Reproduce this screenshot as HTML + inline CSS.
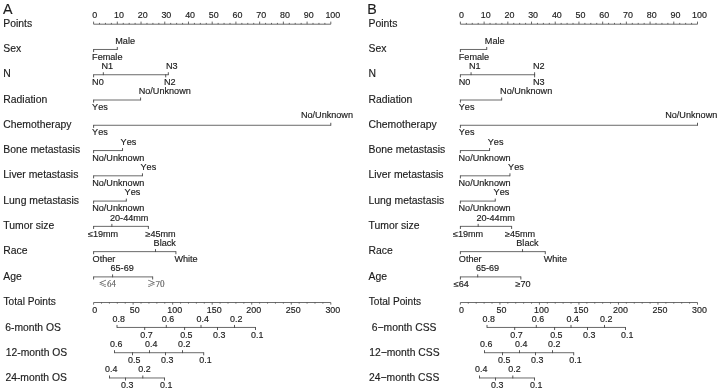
<!DOCTYPE html>
<html><head><meta charset="utf-8"><title>Nomogram</title>
<style>
html,body{margin:0;padding:0;background:#fff;}
text.nk{font-kerning:none;}
svg{display:block;font-family:"Liberation Sans",sans-serif;}
</style></head><body>
<svg width="720" height="392" viewBox="0 0 720 392">
<rect width="720" height="392" fill="#fff"/>
<text transform="translate(3.00 13.70) scale(0.92 1)" font-size="15.5" text-anchor="start" fill="#1c1c1c" stroke="#1c1c1c" stroke-width="0.15" class="nk">A</text>
<text transform="translate(3.30 26.80) scale(1.0 1)" font-size="10.4" text-anchor="start" fill="#1c1c1c" stroke="#1c1c1c" stroke-width="0.15">Points</text>
<path d="M93.60 24.20H330.80M93.60 24.20v-2.6M99.53 24.20v-1.3M105.46 24.20v-1.3M111.39 24.20v-1.3M117.32 24.20v-2.6M123.25 24.20v-1.3M129.18 24.20v-1.3M135.11 24.20v-1.3M141.04 24.20v-2.6M146.97 24.20v-1.3M152.90 24.20v-1.3M158.83 24.20v-1.3M164.76 24.20v-2.6M170.69 24.20v-1.3M176.62 24.20v-1.3M182.55 24.20v-1.3M188.48 24.20v-2.6M194.41 24.20v-1.3M200.34 24.20v-1.3M206.27 24.20v-1.3M212.20 24.20v-2.6M218.13 24.20v-1.3M224.06 24.20v-1.3M229.99 24.20v-1.3M235.92 24.20v-2.6M241.85 24.20v-1.3M247.78 24.20v-1.3M253.71 24.20v-1.3M259.64 24.20v-2.6M265.57 24.20v-1.3M271.50 24.20v-1.3M277.43 24.20v-1.3M283.36 24.20v-2.6M289.29 24.20v-1.3M295.22 24.20v-1.3M301.15 24.20v-1.3M307.08 24.20v-2.6M313.01 24.20v-1.3M318.94 24.20v-1.3M324.87 24.20v-1.3M330.80 24.20v-2.6" fill="none" stroke="#444444" stroke-width="0.8"/>
<text transform="translate(94.80 18.20) scale(1.06 1)" font-size="8.4" text-anchor="middle" fill="#1c1c1c" stroke="#1c1c1c" stroke-width="0.15" class="nk">0</text>
<text transform="translate(118.92 18.20) scale(1.06 1)" font-size="8.4" text-anchor="middle" fill="#1c1c1c" stroke="#1c1c1c" stroke-width="0.15" class="nk">10</text>
<text transform="translate(142.64 18.20) scale(1.06 1)" font-size="8.4" text-anchor="middle" fill="#1c1c1c" stroke="#1c1c1c" stroke-width="0.15" class="nk">20</text>
<text transform="translate(166.36 18.20) scale(1.06 1)" font-size="8.4" text-anchor="middle" fill="#1c1c1c" stroke="#1c1c1c" stroke-width="0.15" class="nk">30</text>
<text transform="translate(190.08 18.20) scale(1.06 1)" font-size="8.4" text-anchor="middle" fill="#1c1c1c" stroke="#1c1c1c" stroke-width="0.15" class="nk">40</text>
<text transform="translate(213.80 18.20) scale(1.06 1)" font-size="8.4" text-anchor="middle" fill="#1c1c1c" stroke="#1c1c1c" stroke-width="0.15" class="nk">50</text>
<text transform="translate(237.52 18.20) scale(1.06 1)" font-size="8.4" text-anchor="middle" fill="#1c1c1c" stroke="#1c1c1c" stroke-width="0.15" class="nk">60</text>
<text transform="translate(261.24 18.20) scale(1.06 1)" font-size="8.4" text-anchor="middle" fill="#1c1c1c" stroke="#1c1c1c" stroke-width="0.15" class="nk">70</text>
<text transform="translate(284.96 18.20) scale(1.06 1)" font-size="8.4" text-anchor="middle" fill="#1c1c1c" stroke="#1c1c1c" stroke-width="0.15" class="nk">80</text>
<text transform="translate(308.68 18.20) scale(1.06 1)" font-size="8.4" text-anchor="middle" fill="#1c1c1c" stroke="#1c1c1c" stroke-width="0.15" class="nk">90</text>
<text transform="translate(332.80 18.20) scale(1.06 1)" font-size="8.4" text-anchor="middle" fill="#1c1c1c" stroke="#1c1c1c" stroke-width="0.15" class="nk">100</text>
<text transform="translate(3.30 52.07) scale(1.0 1)" font-size="10.4" text-anchor="start" fill="#1c1c1c" stroke="#1c1c1c" stroke-width="0.15">Sex</text>
<text transform="translate(92.10 59.67) scale(1.085 1)" font-size="8.4" text-anchor="start" fill="#1c1c1c" stroke="#1c1c1c" stroke-width="0.15" class="nk">Female</text>
<text transform="translate(115.25 43.67) scale(1.085 1)" font-size="8.4" text-anchor="start" fill="#1c1c1c" stroke="#1c1c1c" stroke-width="0.15" class="nk">Male</text>
<path d="M93.60 49.47H117.32" fill="none" stroke="#444444" stroke-width="0.8"/>
<path d="M93.60 49.07v3.00M117.32 49.87v-2.90" fill="none" stroke="#444444" stroke-width="0.9"/>
<text transform="translate(3.30 77.34) scale(1.0 1)" font-size="10.4" text-anchor="start" fill="#1c1c1c" stroke="#1c1c1c" stroke-width="0.15">N</text>
<text transform="translate(92.10 84.94) scale(1.085 1)" font-size="8.4" text-anchor="start" fill="#1c1c1c" stroke="#1c1c1c" stroke-width="0.15" class="nk">N0</text>
<text transform="translate(101.50 68.94) scale(1.085 1)" font-size="8.4" text-anchor="start" fill="#1c1c1c" stroke="#1c1c1c" stroke-width="0.15" class="nk">N1</text>
<text transform="translate(164.00 84.94) scale(1.085 1)" font-size="8.4" text-anchor="start" fill="#1c1c1c" stroke="#1c1c1c" stroke-width="0.15" class="nk">N2</text>
<text transform="translate(166.00 68.94) scale(1.085 1)" font-size="8.4" text-anchor="start" fill="#1c1c1c" stroke="#1c1c1c" stroke-width="0.15" class="nk">N3</text>
<path d="M93.60 74.74H168.32" fill="none" stroke="#444444" stroke-width="0.8"/>
<path d="M93.60 74.34v3.00M103.33 75.14v-2.90M165.71 74.34v3.00M168.32 75.14v-2.90" fill="none" stroke="#444444" stroke-width="0.9"/>
<text transform="translate(3.30 102.61) scale(1.0 1)" font-size="10.4" text-anchor="start" fill="#1c1c1c" stroke="#1c1c1c" stroke-width="0.15">Radiation</text>
<text transform="translate(92.10 110.21) scale(1.085 1)" font-size="8.4" text-anchor="start" fill="#1c1c1c" stroke="#1c1c1c" stroke-width="0.15" class="nk">Yes</text>
<text transform="translate(138.70 94.21) scale(1.085 1)" font-size="8.4" text-anchor="start" fill="#1c1c1c" stroke="#1c1c1c" stroke-width="0.15" class="nk">No/Unknown</text>
<path d="M93.60 100.01H140.57" fill="none" stroke="#444444" stroke-width="0.8"/>
<path d="M93.60 99.61v3.00M140.57 100.41v-2.90" fill="none" stroke="#444444" stroke-width="0.9"/>
<text transform="translate(3.30 127.88) scale(1.0 1)" font-size="10.4" text-anchor="start" fill="#1c1c1c" stroke="#1c1c1c" stroke-width="0.15">Chemotherapy</text>
<text transform="translate(92.10 135.48) scale(1.085 1)" font-size="8.4" text-anchor="start" fill="#1c1c1c" stroke="#1c1c1c" stroke-width="0.15" class="nk">Yes</text>
<text transform="translate(300.90 118.33) scale(1.085 1)" font-size="8.4" text-anchor="start" fill="#1c1c1c" stroke="#1c1c1c" stroke-width="0.15" class="nk">No/Unknown</text>
<path d="M93.60 125.28H330.80" fill="none" stroke="#444444" stroke-width="0.8"/>
<path d="M93.60 124.88v3.00M330.80 125.68v-2.90" fill="none" stroke="#444444" stroke-width="0.9"/>
<text transform="translate(3.30 153.15) scale(1.0 1)" font-size="10.4" text-anchor="start" fill="#1c1c1c" stroke="#1c1c1c" stroke-width="0.15">Bone metastasis</text>
<text transform="translate(92.20 160.75) scale(1.085 1)" font-size="8.4" text-anchor="start" fill="#1c1c1c" stroke="#1c1c1c" stroke-width="0.15" class="nk">No/Unknown</text>
<text transform="translate(120.60 144.75) scale(1.085 1)" font-size="8.4" text-anchor="start" fill="#1c1c1c" stroke="#1c1c1c" stroke-width="0.15" class="nk">Yes</text>
<path d="M93.60 150.55H122.54" fill="none" stroke="#444444" stroke-width="0.8"/>
<path d="M93.60 150.15v3.00M122.54 150.95v-2.90" fill="none" stroke="#444444" stroke-width="0.9"/>
<text transform="translate(3.30 178.42) scale(1.0 1)" font-size="10.4" text-anchor="start" fill="#1c1c1c" stroke="#1c1c1c" stroke-width="0.15">Liver metastasis</text>
<text transform="translate(92.20 186.02) scale(1.085 1)" font-size="8.4" text-anchor="start" fill="#1c1c1c" stroke="#1c1c1c" stroke-width="0.15" class="nk">No/Unknown</text>
<text transform="translate(140.50 170.02) scale(1.085 1)" font-size="8.4" text-anchor="start" fill="#1c1c1c" stroke="#1c1c1c" stroke-width="0.15" class="nk">Yes</text>
<path d="M93.60 175.82H142.46" fill="none" stroke="#444444" stroke-width="0.8"/>
<path d="M93.60 175.42v3.00M142.46 176.22v-2.90" fill="none" stroke="#444444" stroke-width="0.9"/>
<text transform="translate(3.30 203.69) scale(1.0 1)" font-size="10.4" text-anchor="start" fill="#1c1c1c" stroke="#1c1c1c" stroke-width="0.15">Lung metastasis</text>
<text transform="translate(92.20 211.29) scale(1.085 1)" font-size="8.4" text-anchor="start" fill="#1c1c1c" stroke="#1c1c1c" stroke-width="0.15" class="nk">No/Unknown</text>
<text transform="translate(124.60 195.29) scale(1.085 1)" font-size="8.4" text-anchor="start" fill="#1c1c1c" stroke="#1c1c1c" stroke-width="0.15" class="nk">Yes</text>
<path d="M93.60 201.09H126.33" fill="none" stroke="#444444" stroke-width="0.8"/>
<path d="M93.60 200.69v3.00M126.33 201.49v-2.90" fill="none" stroke="#444444" stroke-width="0.9"/>
<text transform="translate(3.30 228.96) scale(1.0 1)" font-size="10.4" text-anchor="start" fill="#1c1c1c" stroke="#1c1c1c" stroke-width="0.15">Tumor size</text>
<text transform="translate(87.90 236.56) scale(1.085 1)" font-size="8.4" text-anchor="start" fill="#1c1c1c" stroke="#1c1c1c" stroke-width="0.15" class="nk">≤19mm</text>
<text transform="translate(110.00 220.56) scale(1.085 1)" font-size="8.4" text-anchor="start" fill="#1c1c1c" stroke="#1c1c1c" stroke-width="0.15" class="nk">20-44mm</text>
<text transform="translate(145.40 236.56) scale(1.085 1)" font-size="8.4" text-anchor="start" fill="#1c1c1c" stroke="#1c1c1c" stroke-width="0.15" class="nk">≥45mm</text>
<path d="M93.60 226.36H148.39" fill="none" stroke="#444444" stroke-width="0.8"/>
<path d="M93.60 225.96v3.00M111.86 226.76v-2.90M148.39 225.96v3.00" fill="none" stroke="#444444" stroke-width="0.9"/>
<text transform="translate(3.30 254.23) scale(1.0 1)" font-size="10.4" text-anchor="start" fill="#1c1c1c" stroke="#1c1c1c" stroke-width="0.15">Race</text>
<text transform="translate(92.60 261.83) scale(1.085 1)" font-size="8.4" text-anchor="start" fill="#1c1c1c" stroke="#1c1c1c" stroke-width="0.15" class="nk">Other</text>
<text transform="translate(153.60 245.83) scale(1.085 1)" font-size="8.4" text-anchor="start" fill="#1c1c1c" stroke="#1c1c1c" stroke-width="0.15" class="nk">Black</text>
<text transform="translate(174.40 261.83) scale(1.085 1)" font-size="8.4" text-anchor="start" fill="#1c1c1c" stroke="#1c1c1c" stroke-width="0.15" class="nk">White</text>
<path d="M93.60 251.63H175.91" fill="none" stroke="#444444" stroke-width="0.8"/>
<path d="M93.60 251.23v3.00M155.51 252.03v-2.90M175.91 251.23v3.00" fill="none" stroke="#444444" stroke-width="0.9"/>
<text transform="translate(3.30 279.50) scale(1.0 1)" font-size="10.4" text-anchor="start" fill="#1c1c1c" stroke="#1c1c1c" stroke-width="0.15">Age</text>
<text transform="translate(98.70 287.40) scale(0.96 1)" font-size="8.6" text-anchor="start" fill="#5c5c5c" stroke="#5c5c5c" stroke-width="0.2" font-family="'Noto Serif CJK SC','Liberation Serif',serif" class="nk">≤64</text>
<text transform="translate(110.50 271.10) scale(1.085 1)" font-size="8.4" text-anchor="start" fill="#1c1c1c" stroke="#1c1c1c" stroke-width="0.15" class="nk">65-69</text>
<text transform="translate(147.20 287.40) scale(0.96 1)" font-size="8.6" text-anchor="start" fill="#5c5c5c" stroke="#5c5c5c" stroke-width="0.2" font-family="'Noto Serif CJK SC','Liberation Serif',serif" class="nk">≥70</text>
<path d="M93.60 276.90H152.66" fill="none" stroke="#444444" stroke-width="0.8"/>
<path d="M93.60 276.50v3.00M112.58 277.30v-2.90M152.66 276.50v3.00" fill="none" stroke="#444444" stroke-width="0.9"/>
<text transform="translate(3.50 305.12) scale(0.975 1)" font-size="10.4" text-anchor="start" fill="#1c1c1c" stroke="#1c1c1c" stroke-width="0.15">Total Points</text>
<path d="M93.60 302.52H330.80M93.60 302.52v2.1M101.51 302.52v1.1M109.41 302.52v1.1M117.32 302.52v1.1M125.23 302.52v1.1M133.13 302.52v2.1M141.04 302.52v1.1M148.95 302.52v1.1M156.85 302.52v1.1M164.76 302.52v1.1M172.67 302.52v2.1M180.57 302.52v1.1M188.48 302.52v1.1M196.39 302.52v1.1M204.29 302.52v1.1M212.20 302.52v2.1M220.11 302.52v1.1M228.01 302.52v1.1M235.92 302.52v1.1M243.83 302.52v1.1M251.73 302.52v2.1M259.64 302.52v1.1M267.55 302.52v1.1M275.45 302.52v1.1M283.36 302.52v1.1M291.27 302.52v2.1M299.17 302.52v1.1M307.08 302.52v1.1M314.99 302.52v1.1M322.89 302.52v1.1M330.80 302.52v2.1" fill="none" stroke="#444444" stroke-width="0.8"/>
<text transform="translate(94.80 313.02) scale(1.06 1)" font-size="8.4" text-anchor="middle" fill="#1c1c1c" stroke="#1c1c1c" stroke-width="0.15" class="nk">0</text>
<text transform="translate(134.73 313.02) scale(1.06 1)" font-size="8.4" text-anchor="middle" fill="#1c1c1c" stroke="#1c1c1c" stroke-width="0.15" class="nk">50</text>
<text transform="translate(174.67 313.02) scale(1.06 1)" font-size="8.4" text-anchor="middle" fill="#1c1c1c" stroke="#1c1c1c" stroke-width="0.15" class="nk">100</text>
<text transform="translate(214.20 313.02) scale(1.06 1)" font-size="8.4" text-anchor="middle" fill="#1c1c1c" stroke="#1c1c1c" stroke-width="0.15" class="nk">150</text>
<text transform="translate(253.73 313.02) scale(1.06 1)" font-size="8.4" text-anchor="middle" fill="#1c1c1c" stroke="#1c1c1c" stroke-width="0.15" class="nk">200</text>
<text transform="translate(293.27 313.02) scale(1.06 1)" font-size="8.4" text-anchor="middle" fill="#1c1c1c" stroke="#1c1c1c" stroke-width="0.15" class="nk">250</text>
<text transform="translate(332.80 313.02) scale(1.06 1)" font-size="8.4" text-anchor="middle" fill="#1c1c1c" stroke="#1c1c1c" stroke-width="0.15" class="nk">300</text>
<text transform="translate(5.20 330.59) scale(0.995 1)" font-size="10.4" text-anchor="start" fill="#1c1c1c" stroke="#1c1c1c" stroke-width="0.15">6-month OS</text>
<text transform="translate(118.70 321.94) scale(1.06 1)" font-size="8.4" text-anchor="middle" fill="#1c1c1c" stroke="#1c1c1c" stroke-width="0.15" class="nk">0.8</text>
<text transform="translate(146.40 337.64) scale(1.06 1)" font-size="8.4" text-anchor="middle" fill="#1c1c1c" stroke="#1c1c1c" stroke-width="0.15" class="nk">0.7</text>
<text transform="translate(168.00 321.94) scale(1.06 1)" font-size="8.4" text-anchor="middle" fill="#1c1c1c" stroke="#1c1c1c" stroke-width="0.15" class="nk">0.6</text>
<text transform="translate(186.30 337.64) scale(1.06 1)" font-size="8.4" text-anchor="middle" fill="#1c1c1c" stroke="#1c1c1c" stroke-width="0.15" class="nk">0.5</text>
<text transform="translate(202.70 321.94) scale(1.06 1)" font-size="8.4" text-anchor="middle" fill="#1c1c1c" stroke="#1c1c1c" stroke-width="0.15" class="nk">0.4</text>
<text transform="translate(219.20 337.64) scale(1.06 1)" font-size="8.4" text-anchor="middle" fill="#1c1c1c" stroke="#1c1c1c" stroke-width="0.15" class="nk">0.3</text>
<text transform="translate(236.20 321.94) scale(1.06 1)" font-size="8.4" text-anchor="middle" fill="#1c1c1c" stroke="#1c1c1c" stroke-width="0.15" class="nk">0.2</text>
<text transform="translate(257.20 337.64) scale(1.06 1)" font-size="8.4" text-anchor="middle" fill="#1c1c1c" stroke="#1c1c1c" stroke-width="0.15" class="nk">0.1</text>
<path d="M117.00 327.44H255.50" fill="none" stroke="#444444" stroke-width="0.8"/>
<path d="M117.00 327.84v-2.90M144.70 327.04v3.00M166.30 327.84v-2.90M184.60 327.04v3.00M201.00 327.84v-2.90M217.50 327.04v3.00M234.50 327.84v-2.90M255.50 327.04v3.00" fill="none" stroke="#444444" stroke-width="0.9"/>
<text transform="translate(5.80 355.86) scale(0.995 1)" font-size="10.4" text-anchor="start" fill="#1c1c1c" stroke="#1c1c1c" stroke-width="0.15">12-month OS</text>
<text transform="translate(116.20 347.21) scale(1.06 1)" font-size="8.4" text-anchor="middle" fill="#1c1c1c" stroke="#1c1c1c" stroke-width="0.15" class="nk">0.6</text>
<text transform="translate(134.20 362.91) scale(1.06 1)" font-size="8.4" text-anchor="middle" fill="#1c1c1c" stroke="#1c1c1c" stroke-width="0.15" class="nk">0.5</text>
<text transform="translate(151.20 347.21) scale(1.06 1)" font-size="8.4" text-anchor="middle" fill="#1c1c1c" stroke="#1c1c1c" stroke-width="0.15" class="nk">0.4</text>
<text transform="translate(167.20 362.91) scale(1.06 1)" font-size="8.4" text-anchor="middle" fill="#1c1c1c" stroke="#1c1c1c" stroke-width="0.15" class="nk">0.3</text>
<text transform="translate(184.20 347.21) scale(1.06 1)" font-size="8.4" text-anchor="middle" fill="#1c1c1c" stroke="#1c1c1c" stroke-width="0.15" class="nk">0.2</text>
<text transform="translate(205.40 362.91) scale(1.06 1)" font-size="8.4" text-anchor="middle" fill="#1c1c1c" stroke="#1c1c1c" stroke-width="0.15" class="nk">0.1</text>
<path d="M114.50 352.71H203.70" fill="none" stroke="#444444" stroke-width="0.8"/>
<path d="M114.50 353.11v-2.90M132.50 352.31v3.00M149.50 353.11v-2.90M165.50 352.31v3.00M182.50 353.11v-2.90M203.70 352.31v3.00" fill="none" stroke="#444444" stroke-width="0.9"/>
<text transform="translate(5.40 381.13) scale(0.995 1)" font-size="10.4" text-anchor="start" fill="#1c1c1c" stroke="#1c1c1c" stroke-width="0.15">24-month OS</text>
<text transform="translate(111.20 372.48) scale(1.06 1)" font-size="8.4" text-anchor="middle" fill="#1c1c1c" stroke="#1c1c1c" stroke-width="0.15" class="nk">0.4</text>
<text transform="translate(127.20 388.18) scale(1.06 1)" font-size="8.4" text-anchor="middle" fill="#1c1c1c" stroke="#1c1c1c" stroke-width="0.15" class="nk">0.3</text>
<text transform="translate(144.50 372.48) scale(1.06 1)" font-size="8.4" text-anchor="middle" fill="#1c1c1c" stroke="#1c1c1c" stroke-width="0.15" class="nk">0.2</text>
<text transform="translate(166.20 388.18) scale(1.06 1)" font-size="8.4" text-anchor="middle" fill="#1c1c1c" stroke="#1c1c1c" stroke-width="0.15" class="nk">0.1</text>
<path d="M109.50 377.98H164.50" fill="none" stroke="#444444" stroke-width="0.8"/>
<path d="M109.50 378.38v-2.90M125.50 377.58v3.00M142.80 378.38v-2.90M164.50 377.58v3.00" fill="none" stroke="#444444" stroke-width="0.9"/>
<text transform="translate(367.30 13.70) scale(0.92 1)" font-size="15.5" text-anchor="start" fill="#1c1c1c" stroke="#1c1c1c" stroke-width="0.15" class="nk">B</text>
<text transform="translate(368.50 26.80) scale(1.0 1)" font-size="10.4" text-anchor="start" fill="#1c1c1c" stroke="#1c1c1c" stroke-width="0.15">Points</text>
<path d="M460.40 24.20H697.50M460.40 24.20v-2.6M466.33 24.20v-1.3M472.25 24.20v-1.3M478.18 24.20v-1.3M484.11 24.20v-2.6M490.04 24.20v-1.3M495.96 24.20v-1.3M501.89 24.20v-1.3M507.82 24.20v-2.6M513.75 24.20v-1.3M519.67 24.20v-1.3M525.60 24.20v-1.3M531.53 24.20v-2.6M537.46 24.20v-1.3M543.38 24.20v-1.3M549.31 24.20v-1.3M555.24 24.20v-2.6M561.17 24.20v-1.3M567.10 24.20v-1.3M573.02 24.20v-1.3M578.95 24.20v-2.6M584.88 24.20v-1.3M590.81 24.20v-1.3M596.73 24.20v-1.3M602.66 24.20v-2.6M608.59 24.20v-1.3M614.51 24.20v-1.3M620.44 24.20v-1.3M626.37 24.20v-2.6M632.30 24.20v-1.3M638.23 24.20v-1.3M644.15 24.20v-1.3M650.08 24.20v-2.6M656.01 24.20v-1.3M661.93 24.20v-1.3M667.86 24.20v-1.3M673.79 24.20v-2.6M679.72 24.20v-1.3M685.64 24.20v-1.3M691.57 24.20v-1.3M697.50 24.20v-2.6" fill="none" stroke="#444444" stroke-width="0.8"/>
<text transform="translate(461.60 18.20) scale(1.06 1)" font-size="8.4" text-anchor="middle" fill="#1c1c1c" stroke="#1c1c1c" stroke-width="0.15" class="nk">0</text>
<text transform="translate(485.71 18.20) scale(1.06 1)" font-size="8.4" text-anchor="middle" fill="#1c1c1c" stroke="#1c1c1c" stroke-width="0.15" class="nk">10</text>
<text transform="translate(509.42 18.20) scale(1.06 1)" font-size="8.4" text-anchor="middle" fill="#1c1c1c" stroke="#1c1c1c" stroke-width="0.15" class="nk">20</text>
<text transform="translate(533.13 18.20) scale(1.06 1)" font-size="8.4" text-anchor="middle" fill="#1c1c1c" stroke="#1c1c1c" stroke-width="0.15" class="nk">30</text>
<text transform="translate(556.84 18.20) scale(1.06 1)" font-size="8.4" text-anchor="middle" fill="#1c1c1c" stroke="#1c1c1c" stroke-width="0.15" class="nk">40</text>
<text transform="translate(580.55 18.20) scale(1.06 1)" font-size="8.4" text-anchor="middle" fill="#1c1c1c" stroke="#1c1c1c" stroke-width="0.15" class="nk">50</text>
<text transform="translate(604.26 18.20) scale(1.06 1)" font-size="8.4" text-anchor="middle" fill="#1c1c1c" stroke="#1c1c1c" stroke-width="0.15" class="nk">60</text>
<text transform="translate(627.97 18.20) scale(1.06 1)" font-size="8.4" text-anchor="middle" fill="#1c1c1c" stroke="#1c1c1c" stroke-width="0.15" class="nk">70</text>
<text transform="translate(651.68 18.20) scale(1.06 1)" font-size="8.4" text-anchor="middle" fill="#1c1c1c" stroke="#1c1c1c" stroke-width="0.15" class="nk">80</text>
<text transform="translate(675.39 18.20) scale(1.06 1)" font-size="8.4" text-anchor="middle" fill="#1c1c1c" stroke="#1c1c1c" stroke-width="0.15" class="nk">90</text>
<text transform="translate(699.50 18.20) scale(1.06 1)" font-size="8.4" text-anchor="middle" fill="#1c1c1c" stroke="#1c1c1c" stroke-width="0.15" class="nk">100</text>
<text transform="translate(368.50 52.07) scale(1.0 1)" font-size="10.4" text-anchor="start" fill="#1c1c1c" stroke="#1c1c1c" stroke-width="0.15">Sex</text>
<text transform="translate(458.80 59.67) scale(1.085 1)" font-size="8.4" text-anchor="start" fill="#1c1c1c" stroke="#1c1c1c" stroke-width="0.15" class="nk">Female</text>
<text transform="translate(484.85 43.67) scale(1.085 1)" font-size="8.4" text-anchor="start" fill="#1c1c1c" stroke="#1c1c1c" stroke-width="0.15" class="nk">Male</text>
<path d="M460.40 49.47H486.72" fill="none" stroke="#444444" stroke-width="0.8"/>
<path d="M460.40 49.07v3.00M486.72 49.87v-2.90" fill="none" stroke="#444444" stroke-width="0.9"/>
<text transform="translate(368.50 77.34) scale(1.0 1)" font-size="10.4" text-anchor="start" fill="#1c1c1c" stroke="#1c1c1c" stroke-width="0.15">N</text>
<text transform="translate(458.80 84.94) scale(1.085 1)" font-size="8.4" text-anchor="start" fill="#1c1c1c" stroke="#1c1c1c" stroke-width="0.15" class="nk">N0</text>
<text transform="translate(469.00 68.94) scale(1.085 1)" font-size="8.4" text-anchor="start" fill="#1c1c1c" stroke="#1c1c1c" stroke-width="0.15" class="nk">N1</text>
<text transform="translate(533.00 68.94) scale(1.085 1)" font-size="8.4" text-anchor="start" fill="#1c1c1c" stroke="#1c1c1c" stroke-width="0.15" class="nk">N2</text>
<text transform="translate(533.00 84.94) scale(1.085 1)" font-size="8.4" text-anchor="start" fill="#1c1c1c" stroke="#1c1c1c" stroke-width="0.15" class="nk">N3</text>
<path d="M460.40 74.74H534.61" fill="none" stroke="#444444" stroke-width="0.8"/>
<path d="M460.40 74.34v3.00M471.07 75.14v-2.90M534.61 75.14v-2.90M534.61 74.34v3.00" fill="none" stroke="#444444" stroke-width="0.9"/>
<text transform="translate(368.50 102.61) scale(1.0 1)" font-size="10.4" text-anchor="start" fill="#1c1c1c" stroke="#1c1c1c" stroke-width="0.15">Radiation</text>
<text transform="translate(458.80 110.21) scale(1.085 1)" font-size="8.4" text-anchor="start" fill="#1c1c1c" stroke="#1c1c1c" stroke-width="0.15" class="nk">Yes</text>
<text transform="translate(500.10 94.21) scale(1.085 1)" font-size="8.4" text-anchor="start" fill="#1c1c1c" stroke="#1c1c1c" stroke-width="0.15" class="nk">No/Unknown</text>
<path d="M460.40 100.01H501.66" fill="none" stroke="#444444" stroke-width="0.8"/>
<path d="M460.40 99.61v3.00M501.66 100.41v-2.90" fill="none" stroke="#444444" stroke-width="0.9"/>
<text transform="translate(368.50 127.88) scale(1.0 1)" font-size="10.4" text-anchor="start" fill="#1c1c1c" stroke="#1c1c1c" stroke-width="0.15">Chemotherapy</text>
<text transform="translate(458.80 135.48) scale(1.085 1)" font-size="8.4" text-anchor="start" fill="#1c1c1c" stroke="#1c1c1c" stroke-width="0.15" class="nk">Yes</text>
<text transform="translate(665.20 118.33) scale(1.085 1)" font-size="8.4" text-anchor="start" fill="#1c1c1c" stroke="#1c1c1c" stroke-width="0.15" class="nk">No/Unknown</text>
<path d="M460.40 125.28H697.50" fill="none" stroke="#444444" stroke-width="0.8"/>
<path d="M460.40 124.88v3.00M697.50 125.68v-2.90" fill="none" stroke="#444444" stroke-width="0.9"/>
<text transform="translate(368.50 153.15) scale(1.0 1)" font-size="10.4" text-anchor="start" fill="#1c1c1c" stroke="#1c1c1c" stroke-width="0.15">Bone metastasis</text>
<text transform="translate(458.50 160.75) scale(1.085 1)" font-size="8.4" text-anchor="start" fill="#1c1c1c" stroke="#1c1c1c" stroke-width="0.15" class="nk">No/Unknown</text>
<text transform="translate(487.80 144.75) scale(1.085 1)" font-size="8.4" text-anchor="start" fill="#1c1c1c" stroke="#1c1c1c" stroke-width="0.15" class="nk">Yes</text>
<path d="M460.40 150.55H489.56" fill="none" stroke="#444444" stroke-width="0.8"/>
<path d="M460.40 150.15v3.00M489.56 150.95v-2.90" fill="none" stroke="#444444" stroke-width="0.9"/>
<text transform="translate(368.50 178.42) scale(1.0 1)" font-size="10.4" text-anchor="start" fill="#1c1c1c" stroke="#1c1c1c" stroke-width="0.15">Liver metastasis</text>
<text transform="translate(458.50 186.02) scale(1.085 1)" font-size="8.4" text-anchor="start" fill="#1c1c1c" stroke="#1c1c1c" stroke-width="0.15" class="nk">No/Unknown</text>
<text transform="translate(508.10 170.02) scale(1.085 1)" font-size="8.4" text-anchor="start" fill="#1c1c1c" stroke="#1c1c1c" stroke-width="0.15" class="nk">Yes</text>
<path d="M460.40 175.82H509.95" fill="none" stroke="#444444" stroke-width="0.8"/>
<path d="M460.40 175.42v3.00M509.95 176.22v-2.90" fill="none" stroke="#444444" stroke-width="0.9"/>
<text transform="translate(368.50 203.69) scale(1.0 1)" font-size="10.4" text-anchor="start" fill="#1c1c1c" stroke="#1c1c1c" stroke-width="0.15">Lung metastasis</text>
<text transform="translate(458.50 211.29) scale(1.085 1)" font-size="8.4" text-anchor="start" fill="#1c1c1c" stroke="#1c1c1c" stroke-width="0.15" class="nk">No/Unknown</text>
<text transform="translate(493.60 195.29) scale(1.085 1)" font-size="8.4" text-anchor="start" fill="#1c1c1c" stroke="#1c1c1c" stroke-width="0.15" class="nk">Yes</text>
<path d="M460.40 201.09H495.25" fill="none" stroke="#444444" stroke-width="0.8"/>
<path d="M460.40 200.69v3.00M495.25 201.49v-2.90" fill="none" stroke="#444444" stroke-width="0.9"/>
<text transform="translate(368.50 228.96) scale(1.0 1)" font-size="10.4" text-anchor="start" fill="#1c1c1c" stroke="#1c1c1c" stroke-width="0.15">Tumor size</text>
<text transform="translate(452.90 236.56) scale(1.085 1)" font-size="8.4" text-anchor="start" fill="#1c1c1c" stroke="#1c1c1c" stroke-width="0.15" class="nk">≤19mm</text>
<text transform="translate(476.40 220.56) scale(1.085 1)" font-size="8.4" text-anchor="start" fill="#1c1c1c" stroke="#1c1c1c" stroke-width="0.15" class="nk">20-44mm</text>
<text transform="translate(504.90 236.56) scale(1.085 1)" font-size="8.4" text-anchor="start" fill="#1c1c1c" stroke="#1c1c1c" stroke-width="0.15" class="nk">≥45mm</text>
<path d="M460.40 226.36H511.61" fill="none" stroke="#444444" stroke-width="0.8"/>
<path d="M460.40 225.96v3.00M478.18 226.76v-2.90M511.61 225.96v3.00" fill="none" stroke="#444444" stroke-width="0.9"/>
<text transform="translate(368.50 254.23) scale(1.0 1)" font-size="10.4" text-anchor="start" fill="#1c1c1c" stroke="#1c1c1c" stroke-width="0.15">Race</text>
<text transform="translate(458.80 261.83) scale(1.085 1)" font-size="8.4" text-anchor="start" fill="#1c1c1c" stroke="#1c1c1c" stroke-width="0.15" class="nk">Other</text>
<text transform="translate(516.30 245.83) scale(1.085 1)" font-size="8.4" text-anchor="start" fill="#1c1c1c" stroke="#1c1c1c" stroke-width="0.15" class="nk">Black</text>
<text transform="translate(543.70 261.83) scale(1.085 1)" font-size="8.4" text-anchor="start" fill="#1c1c1c" stroke="#1c1c1c" stroke-width="0.15" class="nk">White</text>
<path d="M460.40 251.63H545.28" fill="none" stroke="#444444" stroke-width="0.8"/>
<path d="M460.40 251.23v3.00M522.52 252.03v-2.90M545.28 251.23v3.00" fill="none" stroke="#444444" stroke-width="0.9"/>
<text transform="translate(368.50 279.50) scale(1.0 1)" font-size="10.4" text-anchor="start" fill="#1c1c1c" stroke="#1c1c1c" stroke-width="0.15">Age</text>
<text transform="translate(453.80 287.10) scale(1.085 1)" font-size="8.4" text-anchor="start" fill="#1c1c1c" stroke="#1c1c1c" stroke-width="0.15" class="nk">≤64</text>
<text transform="translate(475.90 271.10) scale(1.085 1)" font-size="8.4" text-anchor="start" fill="#1c1c1c" stroke="#1c1c1c" stroke-width="0.15" class="nk">65-69</text>
<text transform="translate(515.40 287.10) scale(1.085 1)" font-size="8.4" text-anchor="start" fill="#1c1c1c" stroke="#1c1c1c" stroke-width="0.15" class="nk">≥70</text>
<path d="M460.40 276.90H520.86" fill="none" stroke="#444444" stroke-width="0.8"/>
<path d="M460.40 276.50v3.00M477.71 277.30v-2.90M520.86 276.50v3.00" fill="none" stroke="#444444" stroke-width="0.9"/>
<text transform="translate(368.70 305.12) scale(0.975 1)" font-size="10.4" text-anchor="start" fill="#1c1c1c" stroke="#1c1c1c" stroke-width="0.15">Total Points</text>
<path d="M460.40 302.52H697.50M460.40 302.52v2.1M468.30 302.52v1.1M476.21 302.52v1.1M484.11 302.52v1.1M492.01 302.52v1.1M499.92 302.52v2.1M507.82 302.52v1.1M515.72 302.52v1.1M523.63 302.52v1.1M531.53 302.52v1.1M539.43 302.52v2.1M547.34 302.52v1.1M555.24 302.52v1.1M563.14 302.52v1.1M571.05 302.52v1.1M578.95 302.52v2.1M586.85 302.52v1.1M594.76 302.52v1.1M602.66 302.52v1.1M610.56 302.52v1.1M618.47 302.52v2.1M626.37 302.52v1.1M634.27 302.52v1.1M642.18 302.52v1.1M650.08 302.52v1.1M657.98 302.52v2.1M665.89 302.52v1.1M673.79 302.52v1.1M681.69 302.52v1.1M689.60 302.52v1.1M697.50 302.52v2.1" fill="none" stroke="#444444" stroke-width="0.8"/>
<text transform="translate(461.60 313.02) scale(1.06 1)" font-size="8.4" text-anchor="middle" fill="#1c1c1c" stroke="#1c1c1c" stroke-width="0.15" class="nk">0</text>
<text transform="translate(501.52 313.02) scale(1.06 1)" font-size="8.4" text-anchor="middle" fill="#1c1c1c" stroke="#1c1c1c" stroke-width="0.15" class="nk">50</text>
<text transform="translate(541.43 313.02) scale(1.06 1)" font-size="8.4" text-anchor="middle" fill="#1c1c1c" stroke="#1c1c1c" stroke-width="0.15" class="nk">100</text>
<text transform="translate(580.95 313.02) scale(1.06 1)" font-size="8.4" text-anchor="middle" fill="#1c1c1c" stroke="#1c1c1c" stroke-width="0.15" class="nk">150</text>
<text transform="translate(620.47 313.02) scale(1.06 1)" font-size="8.4" text-anchor="middle" fill="#1c1c1c" stroke="#1c1c1c" stroke-width="0.15" class="nk">200</text>
<text transform="translate(659.98 313.02) scale(1.06 1)" font-size="8.4" text-anchor="middle" fill="#1c1c1c" stroke="#1c1c1c" stroke-width="0.15" class="nk">250</text>
<text transform="translate(699.50 313.02) scale(1.06 1)" font-size="8.4" text-anchor="middle" fill="#1c1c1c" stroke="#1c1c1c" stroke-width="0.15" class="nk">300</text>
<text transform="translate(371.80 330.59) scale(0.995 1)" font-size="10.4" text-anchor="start" fill="#1c1c1c" stroke="#1c1c1c" stroke-width="0.15">6−month CSS</text>
<text transform="translate(488.70 321.94) scale(1.06 1)" font-size="8.4" text-anchor="middle" fill="#1c1c1c" stroke="#1c1c1c" stroke-width="0.15" class="nk">0.8</text>
<text transform="translate(516.40 337.64) scale(1.06 1)" font-size="8.4" text-anchor="middle" fill="#1c1c1c" stroke="#1c1c1c" stroke-width="0.15" class="nk">0.7</text>
<text transform="translate(538.00 321.94) scale(1.06 1)" font-size="8.4" text-anchor="middle" fill="#1c1c1c" stroke="#1c1c1c" stroke-width="0.15" class="nk">0.6</text>
<text transform="translate(556.30 337.64) scale(1.06 1)" font-size="8.4" text-anchor="middle" fill="#1c1c1c" stroke="#1c1c1c" stroke-width="0.15" class="nk">0.5</text>
<text transform="translate(572.70 321.94) scale(1.06 1)" font-size="8.4" text-anchor="middle" fill="#1c1c1c" stroke="#1c1c1c" stroke-width="0.15" class="nk">0.4</text>
<text transform="translate(589.20 337.64) scale(1.06 1)" font-size="8.4" text-anchor="middle" fill="#1c1c1c" stroke="#1c1c1c" stroke-width="0.15" class="nk">0.3</text>
<text transform="translate(606.20 321.94) scale(1.06 1)" font-size="8.4" text-anchor="middle" fill="#1c1c1c" stroke="#1c1c1c" stroke-width="0.15" class="nk">0.2</text>
<text transform="translate(627.20 337.64) scale(1.06 1)" font-size="8.4" text-anchor="middle" fill="#1c1c1c" stroke="#1c1c1c" stroke-width="0.15" class="nk">0.1</text>
<path d="M487.00 327.44H625.50" fill="none" stroke="#444444" stroke-width="0.8"/>
<path d="M487.00 327.84v-2.90M514.70 327.04v3.00M536.30 327.84v-2.90M554.60 327.04v3.00M571.00 327.84v-2.90M587.50 327.04v3.00M604.50 327.84v-2.90M625.50 327.04v3.00" fill="none" stroke="#444444" stroke-width="0.9"/>
<text transform="translate(369.20 355.86) scale(0.995 1)" font-size="10.4" text-anchor="start" fill="#1c1c1c" stroke="#1c1c1c" stroke-width="0.15">12−month CSS</text>
<text transform="translate(486.20 347.21) scale(1.06 1)" font-size="8.4" text-anchor="middle" fill="#1c1c1c" stroke="#1c1c1c" stroke-width="0.15" class="nk">0.6</text>
<text transform="translate(504.20 362.91) scale(1.06 1)" font-size="8.4" text-anchor="middle" fill="#1c1c1c" stroke="#1c1c1c" stroke-width="0.15" class="nk">0.5</text>
<text transform="translate(521.20 347.21) scale(1.06 1)" font-size="8.4" text-anchor="middle" fill="#1c1c1c" stroke="#1c1c1c" stroke-width="0.15" class="nk">0.4</text>
<text transform="translate(537.20 362.91) scale(1.06 1)" font-size="8.4" text-anchor="middle" fill="#1c1c1c" stroke="#1c1c1c" stroke-width="0.15" class="nk">0.3</text>
<text transform="translate(554.20 347.21) scale(1.06 1)" font-size="8.4" text-anchor="middle" fill="#1c1c1c" stroke="#1c1c1c" stroke-width="0.15" class="nk">0.2</text>
<text transform="translate(575.40 362.91) scale(1.06 1)" font-size="8.4" text-anchor="middle" fill="#1c1c1c" stroke="#1c1c1c" stroke-width="0.15" class="nk">0.1</text>
<path d="M484.50 352.71H573.70" fill="none" stroke="#444444" stroke-width="0.8"/>
<path d="M484.50 353.11v-2.90M502.50 352.31v3.00M519.50 353.11v-2.90M535.50 352.31v3.00M552.50 353.11v-2.90M573.70 352.31v3.00" fill="none" stroke="#444444" stroke-width="0.9"/>
<text transform="translate(369.00 381.13) scale(0.995 1)" font-size="10.4" text-anchor="start" fill="#1c1c1c" stroke="#1c1c1c" stroke-width="0.15">24−month CSS</text>
<text transform="translate(481.20 372.48) scale(1.06 1)" font-size="8.4" text-anchor="middle" fill="#1c1c1c" stroke="#1c1c1c" stroke-width="0.15" class="nk">0.4</text>
<text transform="translate(497.20 388.18) scale(1.06 1)" font-size="8.4" text-anchor="middle" fill="#1c1c1c" stroke="#1c1c1c" stroke-width="0.15" class="nk">0.3</text>
<text transform="translate(514.50 372.48) scale(1.06 1)" font-size="8.4" text-anchor="middle" fill="#1c1c1c" stroke="#1c1c1c" stroke-width="0.15" class="nk">0.2</text>
<text transform="translate(536.20 388.18) scale(1.06 1)" font-size="8.4" text-anchor="middle" fill="#1c1c1c" stroke="#1c1c1c" stroke-width="0.15" class="nk">0.1</text>
<path d="M479.50 377.98H534.50" fill="none" stroke="#444444" stroke-width="0.8"/>
<path d="M479.50 378.38v-2.90M495.50 377.58v3.00M512.80 378.38v-2.90M534.50 377.58v3.00" fill="none" stroke="#444444" stroke-width="0.9"/>
</svg>
</body></html>
